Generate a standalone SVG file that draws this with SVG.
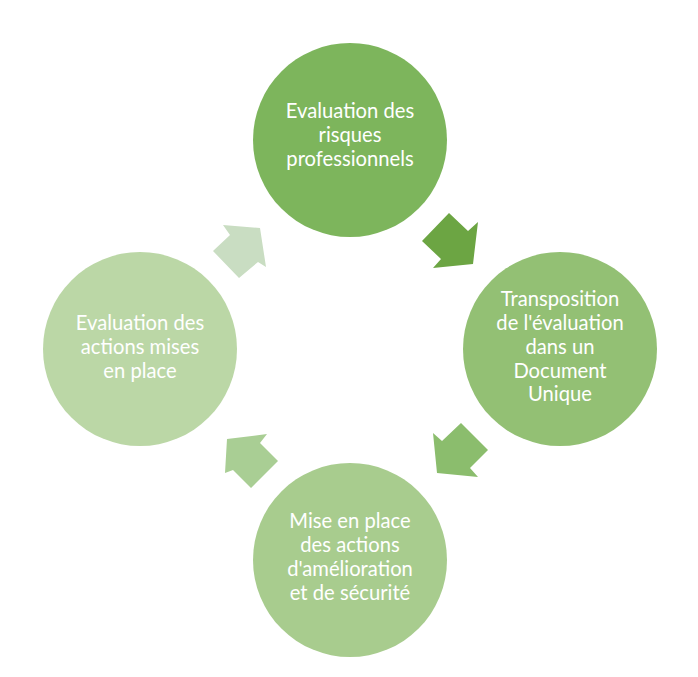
<svg xmlns="http://www.w3.org/2000/svg" width="698" height="677" viewBox="0 0 698 677">
<style>
text{font-family:Lato,"Open Sans","Liberation Sans",sans-serif;font-size:20.2px;fill:#ffffff;text-anchor:middle}
</style>
<rect width="698" height="677" fill="#ffffff"/>
<g id="connectors">
<polygon fill="#6CA543" points="449,213 468,231 478,222 473,264 433,268 441,259 422,241"/>
<polygon fill="#8BBD6D" points="461,423 488,450 470,468 478,477 437,473 433,433 442,441"/>
<polygon fill="#A9CE94" points="227,439 267,434 260,443 278,461 251,488 233,470 225,473"/>
<polygon fill="#C9DDC2" points="223,225 260,228 266,267 258,262 239,278 213,251 230,235"/>
</g>
<g id="n1">
<circle cx="350" cy="140" r="97" fill="#7DB55C"/>
<text x="350" y="118">Evaluation des</text>
<text x="350" y="142">risques</text>
<text x="350" y="166">professionnels</text>
</g>
<g id="n2">
<circle cx="560" cy="349" r="97" fill="#93C074"/>
<text x="560" y="306">Transposition</text>
<text x="560" y="330">de l'évaluation</text>
<text x="560" y="354">dans un</text>
<text x="560" y="378">Document</text>
<text x="560" y="401">Unique</text>
</g>
<g id="n3">
<circle cx="350" cy="560" r="97" fill="#A8CC8E"/>
<text x="350" y="528">Mise en place</text>
<text x="350" y="552">des actions</text>
<text x="350" y="576">d'amélioration</text>
<text x="350" y="600">et de sécurité</text>
</g>
<g id="n4">
<circle cx="140" cy="349" r="97" fill="#BBD7A6"/>
<text x="140" y="330">Evaluation des</text>
<text x="140" y="354">actions mises</text>
<text x="140" y="378">en place</text>
</g>
</svg>
